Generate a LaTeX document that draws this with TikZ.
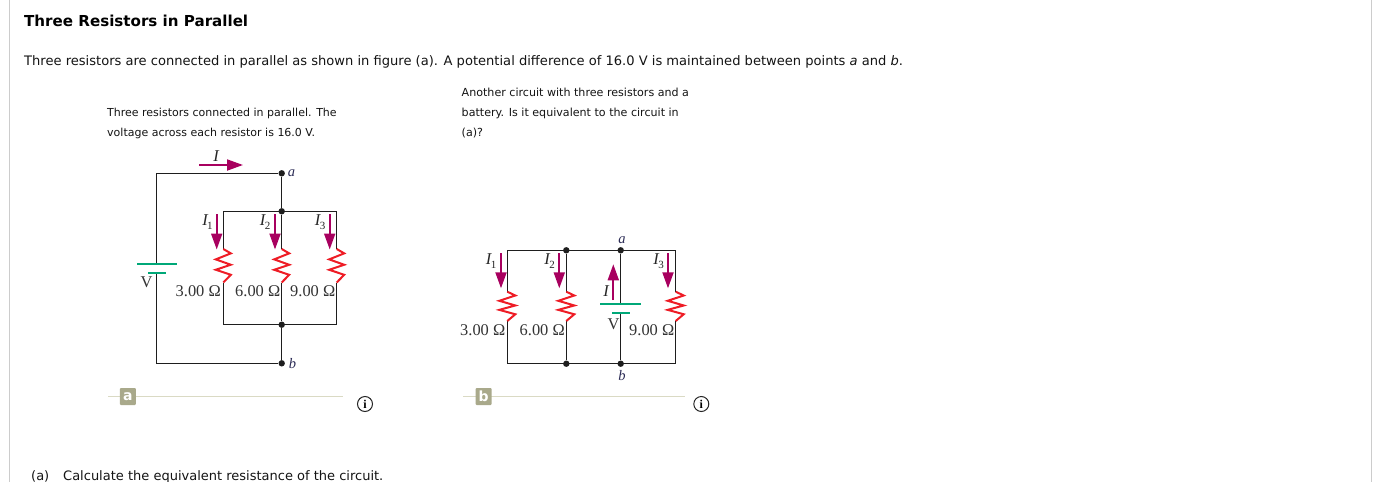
\documentclass[tikz,border=0pt]{standalone}
\usepackage{fontspec}
\setmainfont{DejaVu Sans}
\newfontfamily\circfont{Liberation Serif}
\usetikzlibrary{calc,arrows.meta}
\definecolor{wirec}{HTML}{1E1E1E}
\definecolor{mag}{HTML}{A8005F}
\definecolor{resred}{HTML}{EE1C25}
\definecolor{batg}{HTML}{00A878}
\definecolor{rulec}{HTML}{DADAC4}
\definecolor{badge}{HTML}{A9A98B}
\definecolor{edgec}{HTML}{CCCCCC}
\definecolor{labc}{HTML}{2B2B55}
\tikzset{
  wire/.style={draw=wirec,line width=1.15pt},
  res/.style={draw=resred,line width=2pt,line join=miter},
  plate/.style={draw=batg,line width=2pt},
  cur/.style={draw=mag,line width=1.9pt,-{Triangle[length=16pt,width=11pt]}},
  dotn/.style={circle,fill=wirec,inner sep=0pt,minimum size=6.4pt},
  body/.style={anchor=base west,inner sep=0pt,font=\fontsize{13.07}{13.07}\selectfont,text=black!92},
  small/.style={anchor=base west,inner sep=0pt,font=\fontsize{11.1}{11.1}\selectfont,text=black!92},
  val/.style={anchor=base west,inner sep=0pt,font=\circfont\fontsize{16.4}{16.4}\selectfont,text=black!80},
  cvar/.style={inner sep=0pt,font=\circfont\itshape\fontsize{16.5}{16.5}\selectfont,text=black!85},
  endl/.style={inner sep=0pt,font=\circfont\itshape\fontsize{14.5}{14.5}\selectfont,text=labc},
  rulel/.style={draw=rulec,line width=1.1pt},
  badgen/.style={fill=badge,text=white,inner sep=0pt,minimum width=16pt,minimum height=17pt,rounded corners=1pt,font=\bfseries\fontsize{14}{14}\selectfont},
  infon/.style={circle,draw=black!85,line width=1pt,minimum size=15pt,inner sep=0pt,font=\circfont\bfseries\fontsize{12}{12}\selectfont}
}
\newcommand{\zigres}[3]{%
  \draw[res] (#1)
   -- ($(#1)!.13!(#2)+(#3,0)$) -- ($(#1)!.31!(#2)+(-#3,0)$)
   -- ($(#1)!.47!(#2)+(#3,0)$) -- ($(#1)!.62!(#2)+(-#3,0)$)
   -- ($(#1)!.77!(#2)+(#3,0)$) -- (#2);}
\newcommand{\isub}[1]{I\kern-0.5pt\raisebox{-3.5pt}{\upshape\fontsize{11}{11}\selectfont #1}}
\begin{document}
\begin{tikzpicture}[x=1pt,y=-1pt]
\useasboundingbox (0,0) rectangle (1374,482);
\fill[white] (0,0) rectangle (1374,482);
\coordinate (edgeLt) at (9.5,0); \coordinate (edgeLb) at (9.5,482);
\coordinate (edgeRt) at (1371.5,0); \coordinate (edgeRb) at (1371.5,482);
\draw[draw=edgec,line width=1pt] (edgeLt) -- (edgeLb);
\draw[draw=edgec,line width=1pt] (edgeRt) -- (edgeRb);
% texts
\node[body,font=\bfseries\fontsize{15.1}{15.1}\selectfont,text=black] (title) at (24,26.6) {Three Resistors in Parallel};
\node[body] (intro) at (24,65) {Three resistors are connected in parallel as shown in figure (a). A potential difference of 16.0 V is maintained between points \textit{a} and \textit{b}.};
\node[small,font=\fontsize{11}{11}\selectfont] (ca1) at (107,116) {Three resistors connected in parallel. The};
\node[small,font=\fontsize{11}{11}\selectfont] (ca2) at (107,136) {voltage across each resistor is 16.0 V.};
\node[small] (cb1) at (461.5,96) {Another circuit with three resistors and a};
\node[small] (cb2) at (461.5,116) {battery. Is it equivalent to the circuit in};
\node[small] (cb3) at (461.5,136) {(a)?};
\node[body,font=\fontsize{13}{13}\selectfont] (qa) at (31,480.5) {(a)};
\node[body,font=\fontsize{13}{13}\selectfont] (qb) at (63,480.5) {Calculate the equivalent resistance of the circuit.};
% ---------- circuit a
\coordinate (atl) at (156.3,173.3);
\coordinate (abl) at (156.3,363.3);
\node[dotn] (A) at (281.7,173.3) {};
\node[dotn] (B) at (281.7,363.3) {};
\node[dotn] (Jt) at (281.7,211.3) {};
\node[dotn] (Jb) at (281.7,324.7) {};
\coordinate (alt) at (223.3,211.3); \coordinate (alb) at (223.3,324.7);
\coordinate (art) at (336.7,211.3); \coordinate (arb) at (336.7,324.7);
\coordinate (r1t) at (223.3,249); \coordinate (r1b) at (223.3,282.5);
\coordinate (r2t) at (281.7,249); \coordinate (r2b) at (281.7,282.5);
\coordinate (r3t) at (336.7,249); \coordinate (r3b) at (336.7,282.5);
\coordinate (bp1) at (156.3,263.7); \coordinate (bp2) at (156.3,272.7);
\draw[wire] (bp1) -- (atl) -- (A) -- (Jt) -- (r2t);
\draw[wire] (bp2) -- (abl) -- (B) -- (Jb) -- (r2b);
\draw[wire] (r1t) -- (alt) -- (art) -- (r3t);
\draw[wire] (r1b) -- (alb) -- (arb) -- (r3b);
\zigres{r1t}{r1b}{7.5}\zigres{r2t}{r2b}{7.5}\zigres{r3t}{r3b}{7.5}
\draw[plate] (137,263.7) -- (177,263.7);
\draw[plate] (148,272.7) -- (166,272.7);
\coordinate (iaS) at (199,165); \coordinate (iaE) at (243,165);
\draw[cur] (iaS) -- (iaE);
\coordinate (i1S) at (216.7,214); \coordinate (i1E) at (216.7,249.5);
\coordinate (i2S) at (275,214); \coordinate (i2E) at (275,249.5);
\coordinate (i3S) at (329.7,214); \coordinate (i3E) at (329.7,249.5);
\draw[cur] (i1S) -- (i1E); \draw[cur] (i2S) -- (i2E); \draw[cur] (i3S) -- (i3E);
\node[cvar] (lIa) at (216,156) {I};
\node[cvar,anchor=center] (lI1) at (207.5,222) {\isub{1}};
\node[cvar,anchor=center] (lI2) at (265,222) {\isub{2}};
\node[cvar,anchor=center] (lI3) at (320,222) {\isub{3}};
\node[endl] (la) at (291.5,173) {a};
\node[endl] (lb) at (292.5,364) {b};
\node[val,anchor=center] (lV) at (146.5,282) {V};
\node[val] (v1) at (175.5,296.5) {3.00 Ω};
\node[val] (v2) at (235,296.5) {6.00 Ω};
\node[val] (v3) at (290,296.5) {9.00 Ω};
\coordinate (ra1) at (108,396.3); \coordinate (ra2) at (343,396.3);
\draw[rulel] (ra1) -- (ra2);
\node[badgen] (ba) at (127.8,396.5) {a};
\node[infon] (ia) at (365,404) {i};
% ---------- circuit b
\node[dotn] (P) at (566.3,250.3) {};
\node[dotn] (Q) at (620.7,250.3) {};
\node[dotn] (R) at (566.3,363.7) {};
\node[dotn] (S) at (620.7,363.7) {};
\coordinate (ctl) at (507.3,250.3); \coordinate (cbl) at (507.3,363.7);
\coordinate (ctr) at (675.7,250.3); \coordinate (cbr) at (675.7,363.7);
\coordinate (s1t) at (507.3,291.7); \coordinate (s1b) at (507.3,321);
\coordinate (s2t) at (566.3,291.7); \coordinate (s2b) at (566.3,321);
\coordinate (s3t) at (675.7,291.7); \coordinate (s3b) at (675.7,321);
\coordinate (cp1) at (620.7,303.7); \coordinate (cp2) at (620.7,312.7);
\draw[wire] (s1t) -- (ctl) -- (ctr) -- (s3t);
\draw[wire] (s1b) -- (cbl) -- (cbr) -- (s3b);
\draw[wire] (P) -- (s2t); \draw[wire] (R) -- (s2b);
\draw[wire] (Q) -- (cp1); \draw[wire] (S) -- (cp2);
\zigres{s1t}{s1b}{8}\zigres{s2t}{s2b}{8}\zigres{s3t}{s3b}{8}
\draw[plate] (600,303.7) -- (641,303.7);
\draw[plate] (612,312.7) -- (630,312.7);
\coordinate (jcS) at (613.3,300); \coordinate (jcE) at (613.3,264.3);
\draw[cur] (jcS) -- (jcE);
\coordinate (j1S) at (501,253.3); \coordinate (j1E) at (501,288.3);
\coordinate (j2S) at (559.3,253.3); \coordinate (j2E) at (559.3,288.3);
\coordinate (j3S) at (668,253.3); \coordinate (j3E) at (668,288.3);
\draw[cur] (j1S) -- (j1E); \draw[cur] (j2S) -- (j2E); \draw[cur] (j3S) -- (j3E);
\node[cvar] (lJ) at (606,291) {I};
\node[cvar,anchor=center] (lJ1) at (491,261) {\isub{1}};
\node[cvar,anchor=center] (lJ2) at (549.5,261) {\isub{2}};
\node[cvar,anchor=center] (lJ3) at (658.5,261) {\isub{3}};
\node[endl] (lc) at (622,240) {a};
\node[endl] (ld) at (622,376) {b};
\node[val,anchor=center] (lW) at (613.5,324.5) {V};
\node[val] (w1) at (460,335.5) {3.00 Ω};
\node[val] (w2) at (519.5,335.5) {6.00 Ω};
\node[val] (w3) at (629,335.5) {9.00 Ω};
\coordinate (rb1) at (463,396.3); \coordinate (rb2) at (685,396.3);
\draw[rulel] (rb1) -- (rb2);
\node[badgen] (bb) at (483.7,396.5) {b};
\node[infon] (ib) at (701.3,404) {i};
\end{tikzpicture}
\end{document}
